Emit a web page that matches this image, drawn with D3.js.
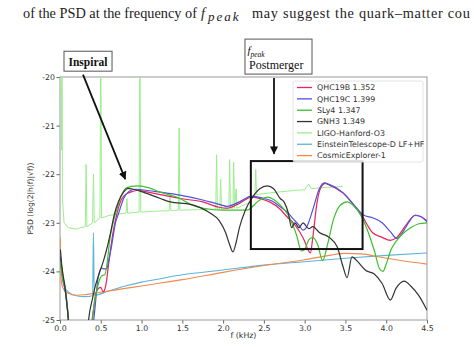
<!DOCTYPE html>
<html><head><meta charset="utf-8">
<script src="https://cdn.jsdelivr.net/npm/d3@7"></script>
<style>
html,body{margin:0;padding:0;background:#fff;}
svg{display:block;}
</style></head>
<body>
<svg id="chart" width="474" height="347"></svg>
<script>
// ---------- data ----------
const xTicks = [0.0,0.5,1.0,1.5,2.0,2.5,3.0,3.5,4.0,4.5];
const yTicks = [-25,-24,-23,-22,-21,-20];
const seriesNames = ["QHC19B 1.352","QHC19C 1.399","SLy4 1.347","GNH3 1.349","LIGO-Hanford-O3","EinsteinTelescope-D LF+HF","CosmicExplorer-1"];
const seriesColors = ["#e8245a","#5050e0","#3cbf2a","#333333","#9ded8f","#5ab4dc","#f08a4f"];

const qhc19b = [[0.005,-23.7],[0.02,-23.95],[0.04,-24.2],[0.06,-24.35],[0.08,-24.6],[0.1,-24.95],[0.12,-25.4],[0.36,-25.6],[0.4,-24.95],[0.44,-24.45],[0.47,-24.35],[0.5,-24.33],[0.53,-24.42],[0.56,-24.3],[0.6,-23.8],[0.65,-23.2],[0.7,-22.8],[0.75,-22.53],[0.82,-22.4],[0.9,-22.35],[0.96,-22.33],[1.05,-22.36],[1.23,-22.42],[1.47,-22.5],[1.75,-22.57],[1.95,-22.68],[2.05,-22.7],[2.2,-22.6],[2.35,-22.47],[2.45,-22.5],[2.57,-22.57],[2.7,-22.72],[2.78,-22.87],[2.86,-23.0],[2.94,-23.19],[3.0,-23.38],[3.04,-23.55],[3.07,-23.62],[3.1,-23.3],[3.15,-22.6],[3.2,-22.27],[3.25,-22.19],[3.3,-22.22],[3.47,-22.39],[3.64,-22.72],[3.72,-22.9],[3.77,-23.05],[3.83,-23.2],[3.95,-23.3],[4.05,-23.36],[4.13,-23.3],[4.22,-23.1],[4.3,-22.92],[4.36,-22.84],[4.42,-22.87],[4.5,-22.96]];
const qhc19c = [[0.005,-23.7],[0.02,-23.9],[0.04,-24.15],[0.06,-24.35],[0.08,-24.6],[0.1,-24.9],[0.13,-25.4],[0.37,-25.6],[0.42,-24.9],[0.47,-24.1],[0.51,-23.93],[0.54,-23.95],[0.57,-23.95],[0.6,-23.75],[0.63,-23.5],[0.68,-23.0],[0.72,-22.8],[0.78,-22.5],[0.85,-22.35],[0.92,-22.31],[1.0,-22.32],[1.23,-22.37],[1.47,-22.43],[1.75,-22.53],[1.95,-22.62],[2.05,-22.66],[2.2,-22.57],[2.35,-22.45],[2.5,-22.5],[2.6,-22.55],[2.7,-22.67],[2.8,-22.8],[2.86,-22.92],[2.93,-23.05],[2.98,-23.15],[3.02,-23.1],[3.1,-22.73],[3.18,-22.3],[3.24,-22.18],[3.3,-22.21],[3.47,-22.38],[3.64,-22.7],[3.72,-22.84],[3.84,-22.9],[3.95,-23.0],[4.05,-23.18],[4.13,-23.32],[4.2,-23.2],[4.28,-22.98],[4.35,-22.85],[4.42,-22.87],[4.5,-22.98]];
const sly4 = [[0.005,-23.8],[0.02,-24.0],[0.04,-24.2],[0.06,-24.3],[0.08,-24.55],[0.1,-24.9],[0.12,-25.4],[0.35,-25.6],[0.4,-24.9],[0.45,-24.4],[0.49,-24.15],[0.52,-24.08],[0.55,-24.07],[0.58,-23.8],[0.61,-23.35],[0.65,-23.0],[0.7,-22.7],[0.75,-22.45],[0.8,-22.3],[0.88,-22.25],[0.94,-22.24],[1.07,-22.27],[1.23,-22.37],[1.47,-22.5],[1.6,-22.62],[1.76,-22.7],[2.0,-22.74],[2.29,-22.74],[2.45,-22.53],[2.55,-22.47],[2.62,-22.52],[2.7,-22.63],[2.8,-22.85],[2.9,-23.25],[2.96,-23.58],[3.0,-23.55],[3.05,-23.35],[3.1,-23.3],[3.16,-23.45],[3.22,-23.78],[3.28,-23.45],[3.35,-22.95],[3.43,-22.65],[3.52,-22.57],[3.6,-22.65],[3.7,-22.88],[3.78,-23.2],[3.85,-23.55],[3.92,-23.95],[3.96,-24.0],[4.0,-23.85],[4.06,-23.55],[4.13,-23.36],[4.22,-23.2],[4.3,-23.1],[4.4,-23.02],[4.5,-23.0]];
const gnh3 = [[0.005,-23.55],[0.02,-23.85],[0.04,-24.1],[0.06,-24.3],[0.08,-24.6],[0.1,-24.95],[0.12,-25.4],[0.32,-25.6],[0.35,-25.0],[0.4,-24.55],[0.43,-24.32],[0.49,-24.0],[0.53,-23.8],[0.57,-23.56],[0.62,-23.2],[0.67,-22.8],[0.72,-22.55],[0.78,-22.37],[0.83,-22.29],[0.9,-22.31],[1.02,-22.37],[1.23,-22.5],[1.35,-22.57],[1.6,-22.62],[1.84,-22.8],[1.95,-22.95],[2.03,-23.2],[2.08,-23.45],[2.12,-23.6],[2.16,-23.4],[2.2,-23.1],[2.27,-22.75],[2.35,-22.5],[2.45,-22.3],[2.54,-22.24],[2.62,-22.3],[2.7,-22.5],[2.75,-22.58],[2.8,-22.8],[2.84,-23.1],[2.88,-23.0],[2.93,-23.1],[2.98,-23.0],[3.05,-23.12],[3.1,-23.08],[3.18,-23.2],[3.3,-23.3],[3.4,-23.5],[3.47,-23.9],[3.52,-24.13],[3.58,-23.7],[3.65,-23.8],[3.75,-23.98],[3.85,-24.05],[3.95,-24.25],[4.05,-24.59],[4.12,-24.35],[4.22,-24.2],[4.3,-24.3],[4.4,-24.5],[4.5,-24.8]];
const ligoO3 = [[0.004,-18.5],[0.02,-21.5],[0.025,-19.5],[0.03,-22.5],[0.05,-23.0],[0.1,-23.1],[0.2,-23.13],[0.25,-23.1],[0.31,-23.08],[0.32,-21.8],[0.33,-23.08],[0.4,-23.0],[0.41,-22.0],[0.42,-23.0],[0.49,-22.9],[0.5,-19.0],[0.51,-22.9],[0.6,-22.85],[0.81,-22.8],[0.82,-22.5],[0.83,-22.8],[0.97,-22.78],[0.98,-19.0],[0.99,-22.78],[1.2,-22.76],[1.34,-22.75],[1.35,-22.4],[1.36,-22.75],[1.45,-22.74],[1.46,-21.05],[1.47,-22.74],[1.7,-22.73],[1.91,-22.72],[1.92,-21.6],[1.93,-22.72],[1.96,-22.72],[1.97,-22.1],[1.98,-22.72],[2.07,-22.7],[2.08,-21.7],[2.09,-22.7],[2.12,-22.7],[2.13,-21.75],[2.14,-22.7],[2.16,-22.3],[2.17,-22.7],[2.3,-22.6],[2.39,-22.45],[2.4,-21.9],[2.41,-22.42],[2.6,-22.38],[2.9,-22.33],[3.0,-22.32],[3.05,-22.2],[3.08,-22.3],[3.2,-22.28],[3.47,-22.25]];
const etD = [[0.003,-23.5],[0.01,-23.8],[0.02,-24.05],[0.05,-24.3],[0.1,-24.42],[0.2,-24.5],[0.3,-24.52],[0.4,-24.5],[0.41,-23.2],[0.42,-24.49],[0.6,-24.4],[0.8,-24.3],[1.0,-24.22],[1.23,-24.15],[1.5,-24.07],[2.0,-23.97],[2.5,-23.87],[3.0,-23.8],[3.5,-23.73],[4.0,-23.67],[4.5,-23.62]];
const ce1 = [[0.003,-23.3],[0.01,-24.0],[0.02,-24.25],[0.05,-24.38],[0.1,-24.45],[0.2,-24.49],[0.3,-24.48],[0.5,-24.43],[0.8,-24.35],[1.0,-24.3],[1.23,-24.24],[1.5,-24.17],[2.0,-24.02],[2.5,-23.88],[3.0,-23.76],[3.3,-23.67],[3.5,-23.63],[3.7,-23.64],[3.9,-23.7],[4.2,-23.78],[4.5,-23.85]];

// annotations (data coordinates)
const highlightBox = {f0:2.34, f1:3.71, v0:-21.73, v1:-23.54};
const inspiralArrow = {from:[0.282,-19.95], to:[0.80,-22.1]};
const postArrow = {from:[2.624,-20.02], to:[2.624,-21.58]};
const inspiralLabelBox = {f0:0.049, f1:0.638, v0:-19.47, v1:-19.88};
const postLabelBox = {f0:2.268, f1:3.09, v0:-19.22, v1:-19.94};

// ---------- chart ----------
const svg = d3.select("#chart");
const m = {left:60, right:427, top:77, bottom:320};
const x = d3.scaleLinear().domain([0,4.5]).range([m.left, m.right]);
const y = d3.scaleLinear().domain([-25,-20]).range([m.bottom, m.top]);

// caption text
const serif = "'Liberation Serif','DejaVu Serif',serif";
svg.append("text").attr("x",23).attr("y",17.5).attr("font-family",serif).attr("font-size",14.3).attr("fill","#222")
  .text("of the PSD at the frequency of");
svg.append("text").attr("x",201).attr("y",17.5).attr("font-family",serif).attr("font-size",14.3)
  .attr("font-style","italic").attr("fill","#222").text("f");
svg.append("text").attr("x",208).attr("y",21).attr("font-family",serif).attr("font-size",13)
  .attr("font-style","italic").attr("letter-spacing",2).attr("fill","#222").text("peak");
svg.append("text").attr("x",252).attr("y",17.5).attr("font-family",serif).attr("font-size",14.3)
  .attr("letter-spacing",0.7).attr("fill","#222").text("may suggest the quark\u2013matter cou");

svg.append("defs").append("clipPath").attr("id","plotclip")
  .append("rect").attr("x",m.left).attr("y",m.top).attr("width",m.right-m.left).attr("height",m.bottom-m.top);

const marker = svg.select("defs").append("marker").attr("id","arrowhead")
  .attr("viewBox","0 0 10 10").attr("refX",9).attr("refY",5)
  .attr("markerWidth",4.5).attr("markerHeight",4.5).attr("orient","auto")
  .attr("markerUnits","strokeWidth");
marker.append("path").attr("d","M0,0 L10,5 L0,10 z").attr("fill","#111");

// axes
const gx = svg.append("g").attr("transform",`translate(0,${m.bottom})`)
  .call(d3.axisBottom(x).tickValues(xTicks).tickFormat(d3.format(".1f")).tickSize(3.5).tickPadding(1.5));
const gy = svg.append("g").attr("transform",`translate(${m.left},0)`)
  .call(d3.axisLeft(y).tickValues(yTicks).tickFormat(d=>"-"+Math.abs(d)).tickSize(3.5).tickPadding(1.5));
[gx,gy].forEach(g=>{
  g.select(".domain").remove();
  g.selectAll("line").attr("stroke","#666");
  g.selectAll("text").attr("font-family","'DejaVu Sans',sans-serif").attr("font-size",7.8).attr("fill","#333");
});

// frame
svg.append("rect").attr("x",m.left).attr("y",m.top).attr("width",m.right-m.left).attr("height",m.bottom-m.top)
  .attr("fill","none").attr("stroke","#999").attr("stroke-width",1);

// axis labels
svg.append("text").attr("x",(m.left+m.right)/2).attr("y",338).attr("text-anchor","middle")
  .attr("font-family","'DejaVu Sans',sans-serif").attr("font-size",7.8).attr("fill","#333").text("f (kHz)");
svg.append("text").attr("transform",`translate(33,${(m.top+m.bottom)/2}) rotate(-90)`).attr("text-anchor","middle")
  .attr("font-family","'DejaVu Sans',sans-serif").attr("font-size",7.6).attr("fill","#333")
  .text("PSD (log(2|h(f)|\u221Af))");

// lines
const plot = svg.append("g").attr("clip-path","url(#plotclip)");
const smooth = d3.line().x(d=>x(d[0])).y(d=>y(d[1])).curve(d3.curveMonotoneX);
const straight = d3.line().x(d=>x(d[0])).y(d=>y(d[1]));
const drawOrder = [
  {data:ligoO3, c:seriesColors[4], w:1, gen:straight},
  {data:etD, c:seriesColors[5], w:1.1, gen:smooth},
  {data:ce1, c:seriesColors[6], w:1.1, gen:smooth},
  {data:qhc19b, c:seriesColors[0], w:1.2, gen:smooth},
  {data:qhc19c, c:seriesColors[1], w:1.2, gen:smooth},
  {data:sly4, c:seriesColors[2], w:1.2, gen:smooth},
  {data:gnh3, c:seriesColors[3], w:1.2, gen:smooth}
];
drawOrder.forEach(s=>{
  plot.append("path").attr("d",s.gen(s.data)).attr("fill","none").attr("stroke",s.c)
    .attr("stroke-width",s.w).attr("stroke-linejoin","round");
});

// highlight box
svg.append("rect").attr("x",x(highlightBox.f0)).attr("y",y(highlightBox.v0))
  .attr("width",x(highlightBox.f1)-x(highlightBox.f0)).attr("height",y(highlightBox.v1)-y(highlightBox.v0))
  .attr("fill","none").attr("stroke","#111").attr("stroke-width",2);

// legend
const lg = svg.append("g");
const lgX = 293, lgY = 81, lgW = 130, lgH = 81;
lg.append("rect").attr("x",lgX).attr("y",lgY).attr("width",lgW).attr("height",lgH).attr("rx",2)
  .attr("fill","#fff").attr("fill-opacity",0.85).attr("stroke","#ddd").attr("stroke-width",0.8);
seriesNames.forEach((n,i)=>{
  const yy = lgY + 6.5 + i*11.35;
  lg.append("line").attr("x1",lgX+4).attr("x2",lgX+19).attr("y1",yy).attr("y2",yy)
    .attr("stroke",seriesColors[i]).attr("stroke-width",1.3);
  lg.append("text").attr("x",lgX+24).attr("y",yy+2.8)
    .attr("font-family","'DejaVu Sans',sans-serif").attr("font-size",7.9).attr("fill","#333").text(n);
});

// annotation arrows
[inspiralArrow, postArrow].forEach(a=>{
  svg.append("line").attr("x1",x(a.from[0])).attr("y1",y(a.from[1]))
    .attr("x2",x(a.to[0])).attr("y2",y(a.to[1]))
    .attr("stroke","#111").attr("stroke-width",1.8).attr("marker-end","url(#arrowhead)");
});

// annotation label boxes
function labelBox(b){
  return svg.append("rect").attr("x",x(b.f0)).attr("y",y(b.v0))
    .attr("width",x(b.f1)-x(b.f0)).attr("height",y(b.v1)-y(b.v0))
    .attr("fill","#fff").attr("stroke","#555").attr("stroke-width",1);
}
labelBox(inspiralLabelBox);
svg.append("text").attr("x",(x(inspiralLabelBox.f0)+x(inspiralLabelBox.f1))/2).attr("y",y(inspiralLabelBox.v1)-5)
  .attr("text-anchor","middle").attr("font-family",serif)
  .attr("font-size",11.5).attr("font-weight",600).attr("fill","#111").text("Inspiral");
labelBox(postLabelBox);
const fp = svg.append("text").attr("x",x(postLabelBox.f0)+2.5).attr("y",y(postLabelBox.v0)+15)
  .attr("font-family",serif).attr("font-size",11).attr("fill","#111");
fp.append("tspan").attr("font-style","italic").text("f");
fp.append("tspan").attr("font-style","italic").attr("font-size",7.5).attr("dy",2.5).text("peak");
svg.append("text").attr("x",x(postLabelBox.f0)+4).attr("y",y(postLabelBox.v1)-5)
  .attr("font-family",serif).attr("font-size",12).attr("fill","#111").text("Postmerger");
</script>
</body></html>
